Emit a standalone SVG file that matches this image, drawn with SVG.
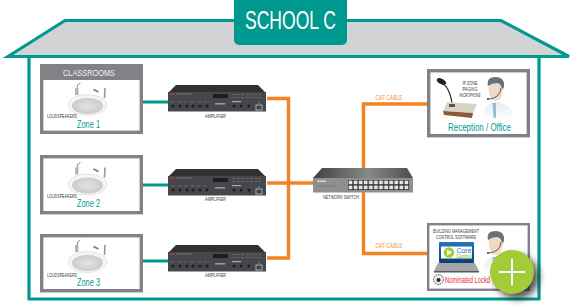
<svg xmlns="http://www.w3.org/2000/svg" xmlns:xlink="http://www.w3.org/1999/xlink" width="580" height="308" viewBox="0 0 580 308">
<style>
  text { font-family: "Liberation Sans Narrow", "Liberation Sans", sans-serif; text-anchor: middle; }
  .wall { fill: none; stroke: #00998f; stroke-width: 3.2; }
  .frame { fill: #fff; stroke: #808285; stroke-width: 3.4; }
  .teal { fill: none; stroke: #00998f; stroke-width: 3.2; }
  .orange { fill: none; stroke: #f58220; stroke-width: 3.4; stroke-linejoin: miter; }
  .tiny { font-size: 5px; fill: #3a3a3c; }
  .zone { font-size: 10.5px; fill: #00998f; }
  .cable { font-size: 6.5px; fill: #f58f3a; }
</style>
<defs>
  <radialGradient id="grille" cx="0.5" cy="0.5" r="0.6">
    <stop offset="0" stop-color="#e4e4e4"/><stop offset="1" stop-color="#c4c5c6"/>
  </radialGradient>
  <linearGradient id="switchTop" x1="0" y1="0" x2="1" y2="0">
    <stop offset="0" stop-color="#3c4144"/><stop offset="0.55" stop-color="#878a8b"/><stop offset="1" stop-color="#4a4e50"/>
  </linearGradient>
  <linearGradient id="shirt" x1="0" y1="0" x2="0" y2="1">
    <stop offset="0" stop-color="#e3eaf0"/><stop offset="1" stop-color="#ffffff"/>
  </linearGradient>
  <linearGradient id="screen" x1="0" y1="0" x2="0" y2="1">
    <stop offset="0" stop-color="#1f76b8"/><stop offset="1" stop-color="#0d3f6e"/>
  </linearGradient>
  <pattern id="ports" x="348" y="180" width="5.08" height="5" patternUnits="userSpaceOnUse">
    <rect x="0.6" y="0.6" width="3.8" height="3.6" fill="#e3e4e5"/>
  </pattern>
  <filter id="soft" x="-40%" y="-40%" width="180%" height="180%">
    <feGaussianBlur stdDeviation="3.5"/>
  </filter>

  <!-- ceiling speaker, origin at the centre of the grille -->
  <g id="speaker">
    <path d="M-11-13 L-10-21 L-7-23" fill="none" stroke="#8a8a86" stroke-width="1"/>
    <rect x="-12.500" y="-18" width="3.500" height="7" fill="#b8b5a8"/>
    <path d="M6-16.500 L11-14" stroke="#6f7f96" stroke-width="1.800"/>
    <path d="M17-8 L17.500-18" stroke="#a09a86" stroke-width="1.600"/>
    <ellipse cx="0" cy="-1" rx="19.500" ry="10.500" fill="#f5f5f5" stroke="#d8d8d8" stroke-width="0.600"/>
    <ellipse cx="0" cy="0" rx="15.500" ry="8" fill="url(#grille)"/>
  </g>

  <!-- rack amplifier, origin at the top left corner -->
  <g id="amp">
    <path d="M0 8 L8 0 H90 L98 8Z" fill="#2f3133"/>
    <rect x="0" y="7" width="98" height="19.500" fill="#45474a"/>
    <rect x="2" y="8.500" width="5" height="1.400" fill="#a5403a"/>
    <rect x="8" y="8.500" width="16" height="0.900" fill="#77797b"/>
    <rect x="45" y="9" width="15" height="4" fill="#1c1d1f"/>
    <path d="M64 9.500 H93 M64 12.500 H93" stroke="#6f7174" stroke-width="0.800" stroke-dasharray="3 1.500"/>
    <path d="M3 17 H42" stroke="#77797b" stroke-width="0.700" stroke-dasharray="3.500 3"/>
    <g fill="#1c1d1f">
      <circle cx="5" cy="21" r="1.500"/><circle cx="12" cy="21" r="1.500"/><circle cx="19" cy="21" r="1.500"/>
      <circle cx="25" cy="21" r="1.500"/><circle cx="32" cy="21" r="1.500"/><circle cx="39" cy="21" r="1.500"/>
      <circle cx="66" cy="21" r="1.500"/><circle cx="73" cy="21" r="1.500"/><circle cx="81" cy="21" r="1.500"/>
    </g>
    <rect x="47" y="18" width="10" height="1.600" fill="#96989a"/>
    <rect x="64" y="16" width="9" height="1.200" fill="#a8aaac"/>
    <circle cx="91" cy="18" r="1" fill="#3f7fc4"/>
    <rect x="88" y="20" width="6" height="5" fill="#3f4143" stroke="#c4c6c8" stroke-width="0.800"/>
  </g>

  <!-- operator wearing a headset, origin at the head -->
  <g id="operator">
    <path d="M-12 29 Q-13 17 -3 13 L3 12 L8 14 Q18 17 19 29 Z" fill="url(#shirt)"/>
    <path d="M-2.500 13 L-1.500 28 H1 L1 13Z" fill="#9dbbd6"/>
    <path d="M-6-9 Q-8 8 0 11 Q6 11 7 3 L9-2 Q9-9 1-11Z" fill="#eed8c6"/>
    <path d="M-7-4 Q-9-13 1-13 Q10-13 9-3 L7-1 Q6-7 2-7 Q-3-7-7-4Z" fill="#66717a"/>
    <path d="M6-2 Q5 8 -6 9" fill="none" stroke="#3a3a3a" stroke-width="0.800"/>
    <circle cx="-7" cy="9" r="1" fill="#333"/>
  </g>
</defs>

<!-- building outline -->
<g id="building">
  <polygon points="8,56.500 65,20.500 501,20.500 569,56.500" fill="#d1d3d4" stroke="#00998f" stroke-width="3.200"/>
  <path class="wall" d="M29 57 V299 H539 V57"/>
</g>

<g id="title">
  <rect x="234" y="-6" width="113" height="51" rx="5" fill="#00998f"/>
  <text x="290.500" y="28.500" font-size="25" fill="#fff" textLength="91" lengthAdjust="spacingAndGlyphs">SCHOOL C</text>
</g>

<!-- cabling -->
<g id="connectors">
  <path class="teal" d="M107 102 H168"/>
  <path class="teal" d="M107 185 H168"/>
  <path class="teal" d="M107 261 H168"/>
  <path class="orange" d="M267 98.500 H288.500 V258 H267"/>
  <path class="orange" d="M267 183 H313"/>
  <path class="orange" d="M435 104 H363.500 V168"/>
  <path class="orange" d="M363.500 192 V253.500 H435"/>
  <text class="cable" x="389" y="100" textLength="27" lengthAdjust="spacingAndGlyphs">CAT CABLE</text>
  <text class="cable" x="389" y="248" textLength="27" lengthAdjust="spacingAndGlyphs">CAT CABLE</text>
</g>

<g id="zone1">
  <rect x="41.700" y="65.700" width="99.600" height="66.600" fill="#fff" stroke="#808285" stroke-width="3.400"/>
  <rect x="40" y="64" width="103" height="16" fill="#808285"/>
  <text x="89" y="75.500" font-size="9.500" fill="#f1f1f2" textLength="52" lengthAdjust="spacingAndGlyphs">CLASSROOMS</text>
  <use xlink:href="#speaker" href="#speaker" x="87.500" y="106"/>
  <text class="tiny" x="62" y="118" textLength="30" lengthAdjust="spacingAndGlyphs">LOUDSPEAKERS</text>
  <text class="zone" x="88.500" y="127.500" textLength="23" lengthAdjust="spacingAndGlyphs">Zone 1</text>
</g>
<g id="zone2">
  <rect class="frame" x="41.700" y="156.700" width="99.600" height="56"/>
  <use xlink:href="#speaker" href="#speaker" x="87.500" y="185.500"/>
  <text class="tiny" x="62" y="197.500" textLength="30" lengthAdjust="spacingAndGlyphs">LOUDSPEAKERS</text>
  <text class="zone" x="88.500" y="207" textLength="23" lengthAdjust="spacingAndGlyphs">Zone 2</text>
</g>
<g id="zone3">
  <rect class="frame" x="41.700" y="235.700" width="99.600" height="55"/>
  <use xlink:href="#speaker" href="#speaker" x="87.500" y="263"/>
  <text class="tiny" x="62" y="276.500" textLength="30" lengthAdjust="spacingAndGlyphs">LOUDSPEAKERS</text>
  <text class="zone" x="88.500" y="285.500" textLength="23" lengthAdjust="spacingAndGlyphs">Zone 3</text>
</g>

<g id="amplifier1">
  <use xlink:href="#amp" href="#amp" x="168" y="85"/>
  <text class="tiny" x="215.500" y="118" textLength="21" lengthAdjust="spacingAndGlyphs">AMPLIFIER</text>
</g>
<g id="amplifier2">
  <use xlink:href="#amp" href="#amp" x="168" y="169"/>
  <text class="tiny" x="215.500" y="201" textLength="21" lengthAdjust="spacingAndGlyphs">AMPLIFIER</text>
</g>
<g id="amplifier3">
  <use xlink:href="#amp" href="#amp" x="168" y="245"/>
  <text class="tiny" x="215.500" y="277" textLength="21" lengthAdjust="spacingAndGlyphs">AMPLIFIER</text>
</g>

<g id="switch">
  <path d="M313 178 L322 168 H407 L413 178Z" fill="url(#switchTop)"/>
  <rect x="313" y="178" width="100" height="14.500" fill="#8d8f91"/>
  <rect x="348" y="180" width="61" height="10" fill="#303234"/>
  <rect x="348" y="180" width="61" height="10" fill="url(#ports)"/>
  <rect x="317" y="180.500" width="9" height="1.500" fill="#d4d5d6"/>
  <path d="M318 186 H336" stroke="#6f7173" stroke-width="0.800"/>
  <text class="tiny" x="341" y="198.500" textLength="36" lengthAdjust="spacingAndGlyphs">NETWORK SWITCH</text>
</g>

<g id="reception">
  <rect class="frame" x="428.700" y="70.700" width="99.600" height="65"/>
  <!-- desk microphone -->
  <path d="M441.500 83 Q449 86 452 103" fill="none" stroke="#2b2b2d" stroke-width="1.300"/>
  <ellipse cx="441.500" cy="81.500" rx="5" ry="2.600" transform="rotate(28 441.500 81.500)" fill="#1f2021"/>
  <polygon points="443,111 447,102 477,104 473,113" fill="#d8d5c8"/>
  <polygon points="443,111 473,113 472,118 444,115" fill="#8c5a38"/>
  <rect x="449" y="104" width="6" height="3" fill="#55585a"/>
  <circle cx="458" cy="106.500" r="1" fill="#e7cf6a"/><circle cx="466" cy="107" r="1" fill="#e7cf6a"/>
  <text class="tiny" x="470" y="85" textLength="15" lengthAdjust="spacingAndGlyphs">IP ZONE</text>
  <text class="tiny" x="470" y="91" textLength="15" lengthAdjust="spacingAndGlyphs">PAGING</text>
  <text class="tiny" x="470" y="97" textLength="21" lengthAdjust="spacingAndGlyphs">MICROPHONE</text>
  <use xlink:href="#operator" href="#operator" x="495" y="90"/>
  <text x="479.500" y="130.500" font-size="10" fill="#00998f" textLength="63" lengthAdjust="spacingAndGlyphs">Reception / Office</text>
</g>

<g id="bms">
  <rect x="428.200" y="224.200" width="100.600" height="65.600" fill="#fff" stroke="#808285" stroke-width="2.400"/>
  <text class="tiny" x="456" y="233" textLength="46" lengthAdjust="spacingAndGlyphs">BUILDING MANAGEMENT</text>
  <text class="tiny" x="456" y="239" textLength="40" lengthAdjust="spacingAndGlyphs">CONTROL SOFTWARE</text>
  <!-- laptop with the Core Control logo -->
  <rect x="439" y="242" width="35" height="21" rx="1" fill="url(#screen)"/>
  <rect x="441" y="246.500" width="31" height="12" fill="#fff"/>
  <circle cx="449" cy="252.500" r="5.200" fill="#a4cc39"/>
  <path d="M447 249.500 L452 252.500 L447 255.500Z" fill="#fff"/>
  <text x="464" y="253" font-size="7" fill="#1f76b8" textLength="15" lengthAdjust="spacingAndGlyphs">Core</text>
  <text x="464" y="258" font-size="4.500" fill="#7aa82b" textLength="15" lengthAdjust="spacingAndGlyphs">Control</text>
  <polygon points="438,263 475,263 479,271 434,271" fill="#a3a5a8"/>
  <rect x="434" y="271" width="45" height="1.500" fill="#55575a"/>
  <!-- lockdown badge -->
  <circle cx="438.500" cy="279.500" r="5" fill="#e8e8e8" stroke="#4a4a4a" stroke-width="1" stroke-dasharray="1.500 1"/>
  <circle cx="438.500" cy="280" r="2" fill="#2a2a2a"/>
  <text x="467.500" y="283" font-size="8.500" fill="#ed1c3c" textLength="45" lengthAdjust="spacingAndGlyphs">Nominated Lockd</text>
  <use xlink:href="#operator" href="#operator" x="495" y="244"/>
</g>

<!-- expand button -->
<g id="expand">
  <circle cx="517" cy="277" r="22" fill="#1a1a1a" opacity="0.75" filter="url(#soft)"/>
  <circle cx="512" cy="272" r="22" fill="#a4cc39"/>
  <path d="M499 272 H525 M512 259 V285" stroke="#fff" stroke-width="2" fill="none"/>
</g>
</svg>
